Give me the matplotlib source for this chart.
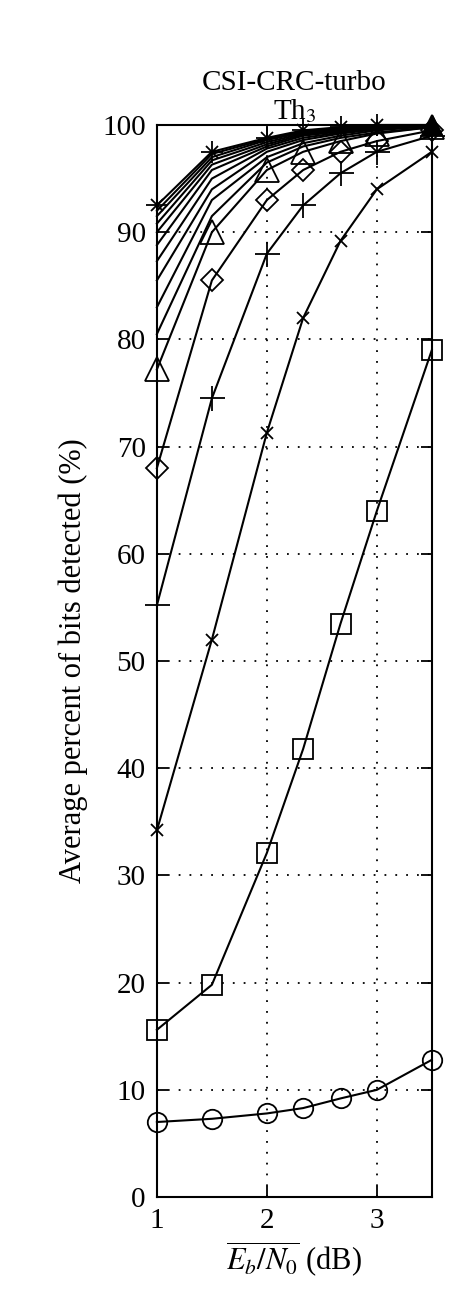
import matplotlib
matplotlib.use("Agg")
import matplotlib.pyplot as plt

plt.rcParams['font.family'] = ['Liberation Serif', 'DejaVu Serif']
plt.rcParams['mathtext.fontset'] = 'stix'

x = [1, 1.5, 2, 2.33, 2.67, 3, 3.5]
circle = [7.0, 7.3, 7.8, 8.3, 9.2, 10.0, 12.8]
square = [15.6, 19.8, 32.1, 41.8, 53.5, 64.0, 79.0]
xcurve = [34.2, 52.0, 71.3, 82.0, 89.2, 94.0, 97.5]
plus = [55.2, 74.5, 88.0, 92.5, 95.5, 97.5, 99.0]
diamond = [68.0, 85.5, 93.0, 95.8, 97.5, 98.5, 99.5]
triangle = [77.2, 90.0, 95.8, 97.5, 98.5, 99.2, 99.8]
unmarked = [
    [80.5, 91.5, 96.5, 98.0, 98.8, 99.3, 99.8],
    [83.0, 93.0, 97.0, 98.3, 99.0, 99.5, 99.9],
    [85.5, 94.0, 97.5, 98.6, 99.2, 99.6, 99.9],
    [87.3, 95.0, 97.8, 98.8, 99.3, 99.7, 100],
    [88.8, 95.8, 98.0, 99.0, 99.4, 99.8, 100],
    [90.0, 96.3, 98.2, 99.1, 99.5, 99.8, 100],
    [90.8, 96.7, 98.4, 99.2, 99.6, 99.9, 100],
    [91.5, 97.0, 98.6, 99.3, 99.7, 99.9, 100],
    [92.0, 97.3, 98.7, 99.4, 99.7, 100, 100],
]
star = [92.5, 97.5, 98.8, 99.5, 99.8, 100, 100]
xticks = [1, 2, 3]
yticks = list(range(0, 101, 10))

fig = plt.figure(figsize=(4.74, 13.02), dpi=100)
ax = fig.add_axes([0.331, 0.0806, 0.58, 0.8234])
kw = dict(color='black', lw=1.5, mfc='none', mec='black', mew=1.3)
ax.plot(x, circle, marker='o', ms=14, **kw)
ax.plot(x, square, marker='s', ms=15, **kw)
ax.plot(x, xcurve, marker='x', ms=9, **kw)
ax.plot(x, plus, marker='+', ms=18, **kw)
ax.plot(x, diamond, marker='D', ms=11, **kw)
ax.plot(x, triangle, marker='^', ms=17, **kw)
for u in unmarked:
    ax.plot(x, u, color='black', lw=1.5)
ax.plot(x, star, **kw)
ax.plot(x[:-1], star[:-1], ls='none', marker='+', ms=16, color='black', mew=1.3)
ax.plot(x[:-1], star[:-1], ls='none', marker='x', ms=9, color='black', mew=1.3)
ax.plot(x[-1:], star[-1:], ls='none', marker='^', ms=15, color='black')

ax.set_xlim(1, 3.5)
ax.set_ylim(0, 100)
ax.set_xticks(xticks)
ax.set_yticks(yticks)
ax.tick_params(direction='in', top=True, right=True, labelsize=21, length=8, width=1.3, pad=8)
ax.grid(True, ls=(0, (1, 5)), color='black', lw=1.3)
for s in ax.spines.values():
    s.set_linewidth(1.5)
ax.set_ylabel('Average percent of bits detected (%)', fontsize=22, labelpad=10)
ax.set_xlabel(r'$\overline{E_b/N_0}$ (dB)', fontsize=22)
ax.set_title('CSI-CRC-turbo\nTh$_3$', fontsize=21, linespacing=1.05, pad=4)
for l in ax.get_lines():
    l.set_clip_on(False)
fig.savefig('out.png', dpi=100)
